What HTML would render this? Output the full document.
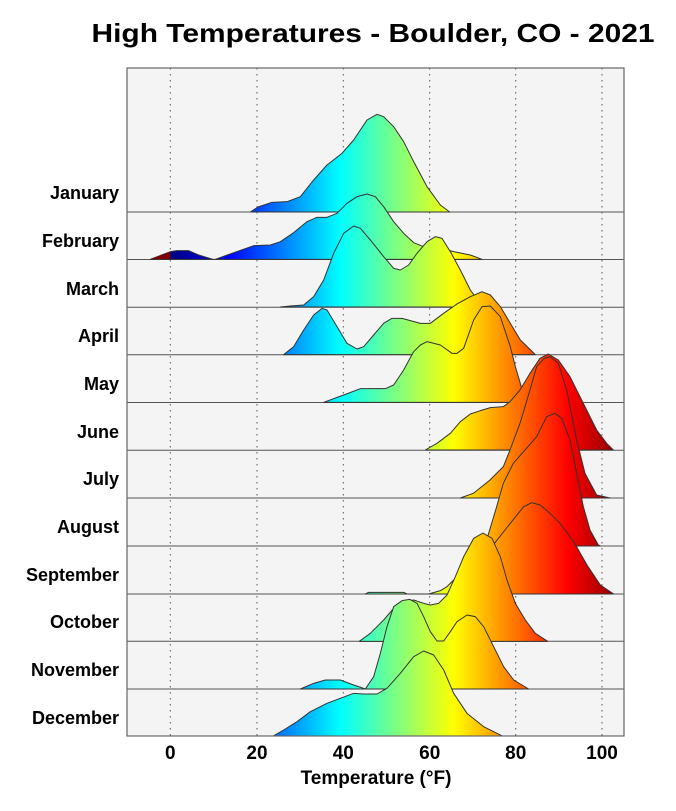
<!DOCTYPE html>
<html><head><meta charset="utf-8"><style>
html,body{margin:0;padding:0;background:#fff;}
svg{display:block;font-family:"Liberation Sans",sans-serif;font-weight:bold;}
</style></head><body>
<svg width="676" height="811" viewBox="0 0 676 811" xmlns="http://www.w3.org/2000/svg">
<defs>
<linearGradient id="jet" gradientUnits="userSpaceOnUse" x1="130" y1="0" x2="1491" y2="0">
<stop offset="0" stop-color="#000080"/>
<stop offset="0.125" stop-color="#0000ff"/>
<stop offset="0.375" stop-color="#00ffff"/>
<stop offset="0.625" stop-color="#ffff00"/>
<stop offset="0.875" stop-color="#ff0000"/>
<stop offset="1" stop-color="#800000"/>
</linearGradient>
<clipPath id="pc"><rect x="127" y="68" width="497" height="668"/></clipPath>
</defs>
<text x="373" y="42" text-anchor="middle" font-size="26" textLength="563" lengthAdjust="spacingAndGlyphs">High Temperatures - Boulder, CO - 2021</text>
<rect x="127" y="68" width="497" height="668" fill="#f4f4f4"/>
<g stroke="#555" stroke-width="1" stroke-dasharray="1.5,4.5">
<line x1="170.3" y1="68" x2="170.3" y2="736"/>
<line x1="257" y1="68" x2="257" y2="736"/>
<line x1="343.3" y1="68" x2="343.3" y2="736"/>
<line x1="429.7" y1="68" x2="429.7" y2="736"/>
<line x1="515.7" y1="68" x2="515.7" y2="736"/>
<line x1="602" y1="68" x2="602" y2="736"/>
</g>
<g clip-path="url(#pc)" stroke="#333" stroke-width="1" stroke-linejoin="round">
<line x1="127" y1="212" x2="624" y2="212" stroke="#555"/>
<g transform="translate(127,100) scale(0.33333)">
<path vector-effect="non-scaling-stroke" fill="url(#jet)" d="M370,336 L395,320 435,307 480,305 520,290 560,240 600,195 645,160 680,120 720,60 750,43 770,50 800,80 830,125 860,185 900,260 940,315 968,336 Z"/>
</g>
<line x1="127" y1="259.5" x2="624" y2="259.5" stroke="#555"/>
<g transform="translate(127,100) scale(0.33333)">
<path vector-effect="non-scaling-stroke" fill="url(#jet)" d="M70,478 L130,455 150,452 185,452 215,465 258,478 265,478 320,458 380,437 430,435 460,425 500,398 540,365 570,352 600,352 630,340 660,310 690,290 720,282 745,290 770,320 800,365 830,400 860,428 890,440 940,445 980,455 1030,465 1065,478 Z"/>
<path fill="#800000" stroke="none" d="M72,477 L130,456 130,477 Z"/>
</g>
<line x1="127" y1="307.2" x2="624" y2="307.2" stroke="#555"/>
<g transform="translate(127,100) scale(0.33333)">
<path vector-effect="non-scaling-stroke" fill="url(#jet)" d="M460,621 L490,618 530,615 560,590 590,540 620,460 650,400 680,378 700,385 730,420 770,470 800,505 820,510 845,495 870,460 900,425 925,410 945,415 970,455 1000,510 1030,570 1060,610 1075,621 Z"/>
</g>
<line x1="127" y1="354.8" x2="624" y2="354.8" stroke="#555"/>
<g transform="translate(127,100) scale(0.33333)">
<path vector-effect="non-scaling-stroke" fill="url(#jet)" d="M470,764 L500,740 530,690 560,645 585,625 600,630 630,680 660,730 690,747 710,740 740,705 770,670 795,655 825,655 850,662 880,670 910,670 950,640 990,612 1030,590 1065,575 1090,585 1120,620 1150,670 1180,720 1225,764 Z"/>
</g>
<line x1="127" y1="402.5" x2="624" y2="402.5" stroke="#555"/>
<g transform="translate(127,340) scale(0.33333)">
<path vector-effect="non-scaling-stroke" fill="url(#jet)" d="M590,187 L650,165 700,146 775,146 800,135 830,90 860,35 880,15 900,5 940,15 975,40 990,40 1010,25 1040,-60 1065,-100 1090,-102 1120,-70 1150,20 1165,80 1180,130 1195,187 Z"/>
</g>
<line x1="127" y1="450.2" x2="624" y2="450.2" stroke="#555"/>
<g transform="translate(127,340) scale(0.33333)">
<path vector-effect="non-scaling-stroke" fill="url(#jet)" d="M895,330 L930,310 970,280 1000,245 1030,222 1060,212 1090,203 1129,200 1149,185 1179,150 1209,100 1239,55 1264,42 1294,60 1329,110 1369,190 1409,270 1439,310 1459,330 Z"/>
</g>
<line x1="127" y1="498" x2="624" y2="498" stroke="#555"/>
<g transform="translate(127,340) scale(0.33333)">
<path vector-effect="non-scaling-stroke" fill="url(#jet)" d="M1000,474 L1039,460 1089,420 1129,380 1149,330 1179,250 1209,150 1229,80 1252,55 1269,50 1294,70 1319,150 1349,300 1374,400 1409,465 1449,474 Z"/>
</g>
<line x1="127" y1="546" x2="624" y2="546" stroke="#555"/>
<g transform="translate(127,340) scale(0.33333)">
<path vector-effect="non-scaling-stroke" fill="url(#jet)" d="M1060,618 L1079,600 1109,500 1129,430 1159,370 1229,290 1259,230 1284,220 1304,235 1329,300 1349,400 1369,500 1389,570 1414,615 1420,618 Z"/>
</g>
<line x1="127" y1="594" x2="624" y2="594" stroke="#555"/>
<g transform="translate(127,340) scale(0.33333)">
<path vector-effect="non-scaling-stroke" fill="url(#jet)" d="M715,762 L725,757 830,757 840,762 905,762 940,752 960,740 980,720 1010,700 1040,675 1070,645 1104,608 1150,550 1190,500 1214,488 1240,495 1269,520 1299,550 1340,605 1380,675 1420,735 1460,762 Z"/>
</g>
<line x1="127" y1="641.3" x2="624" y2="641.3" stroke="#555"/>
<g transform="translate(127,570) scale(0.33333)">
<path vector-effect="non-scaling-stroke" fill="url(#jet)" d="M697,214 L730,190 770,150 800,115 830,95 860,90 890,100 910,105 935,100 960,75 985,20 1010,-40 1040,-95 1068,-111 1095,-95 1120,-40 1140,30 1165,100 1195,150 1225,190 1262,214 Z"/>
</g>
<line x1="127" y1="689" x2="624" y2="689" stroke="#555"/>
<g transform="translate(127,570) scale(0.33333)">
<path vector-effect="non-scaling-stroke" fill="url(#jet)" d="M520,357 L560,340 595,330 640,330 680,345 715,357 740,320 760,250 780,170 800,110 825,92 848,88 870,100 890,140 910,185 930,213 950,213 970,185 990,155 1020,135 1045,140 1070,170 1100,230 1130,290 1160,330 1205,357 Z"/>
</g>
<g transform="translate(127,570) scale(0.33333)">
<path vector-effect="non-scaling-stroke" fill="url(#jet)" d="M435,500 L470,480 510,455 550,425 600,400 640,385 680,370 710,372 750,372 780,355 820,310 860,260 890,243 920,255 950,300 980,370 1020,430 1070,470 1130,500 Z"/>
</g>
</g>
<rect x="127" y="68" width="497" height="668" fill="none" stroke="#666" stroke-width="1.2"/>
<g font-size="18" text-anchor="end">
<text x="119" y="199">January</text>
<text x="119" y="247">February</text>
<text x="119" y="295">March</text>
<text x="119" y="342">April</text>
<text x="119" y="390">May</text>
<text x="119" y="438">June</text>
<text x="119" y="485">July</text>
<text x="119" y="533">August</text>
<text x="119" y="581">September</text>
<text x="119" y="628">October</text>
<text x="119" y="676">November</text>
<text x="119" y="724">December</text>
</g>
<g font-size="19" text-anchor="middle">
<text x="170.3" y="759">0</text>
<text x="257" y="759">20</text>
<text x="343.3" y="759">40</text>
<text x="429.7" y="759">60</text>
<text x="515.7" y="759">80</text>
<text x="602" y="759">100</text>
</g>
<text x="376" y="784" font-size="19" text-anchor="middle">Temperature (°F)</text>
</svg>
</body></html>
